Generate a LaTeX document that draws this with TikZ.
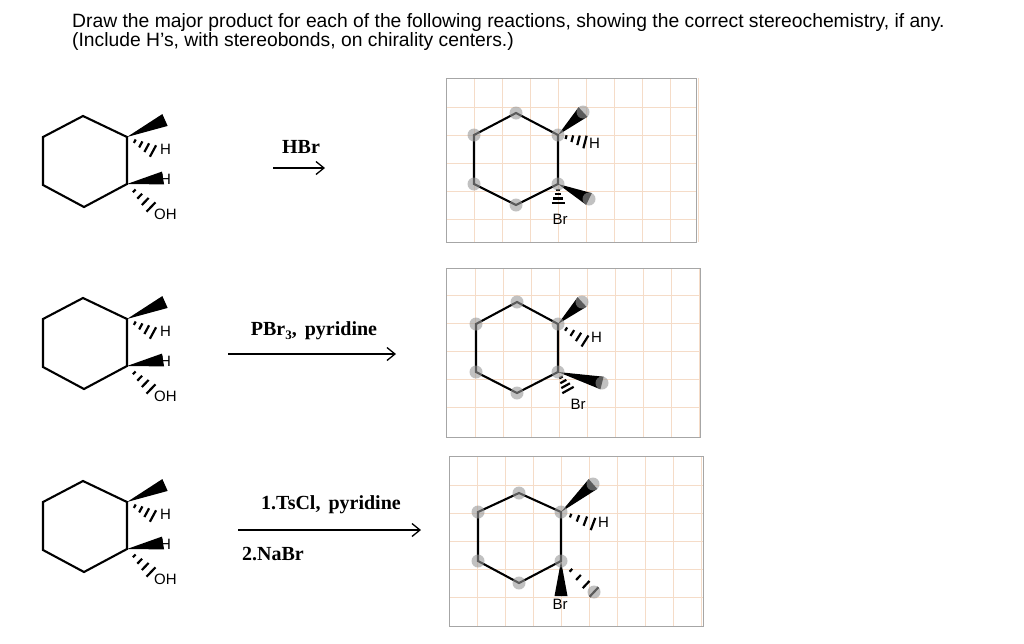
\documentclass[tikz,border=0pt]{standalone}
\usepackage{fontspec}
\setmainfont{Liberation Sans}
\newfontfamily\rxn{Liberation Serif}
\usetikzlibrary{calc,arrows.meta}
\definecolor{gridc}{RGB}{245,220,200}
\tikzset{bond/.style={line width=2.1pt,line join=miter},
 lab/.style={font=\fontsize{15}{15}\selectfont,inner sep=0pt},
 rx/.style={font=\rxn\bfseries\fontsize{20}{20}\selectfont,inner sep=0pt},
 arr/.style={-{Straight Barb[length=8pt,width=13pt]},line width=1.3pt},
 dot/.style={fill=gray!80,opacity=0.6},
 boxb/.style={draw=gray!70,line width=1pt}}
\newcommand\sub[1]{{\fontsize{13}{13}\selectfont\raisebox{-4pt}{#1}}}
\newcommand\wedgebond[2]{\fill (#1) -- ($(#2)!6.5pt!90:(#1)$) -- ($(#2)!6.5pt!-90:(#1)$) -- cycle;}
\newcommand\hashbond[2]{\foreach \t in {0.3,0.53,0.76,1.0}{\pgfmathsetmacro\hw{\t*6.5}
 \draw[line width=2.2pt] ($($(#1)!\t!(#2)$)!\hw pt!90:(#1)$) -- ($($(#1)!\t!(#2)$)!\hw pt!-90:(#1)$);}}
\newcommand\reactant{%
 \coordinate (t) at (83,116); \coordinate (c1) at (127,137); \coordinate (c2) at (127,184);
 \coordinate (b) at (84,207); \coordinate (ll) at (43,185); \coordinate (ul) at (43,137);
 \draw[bond] (t)--(c1)--(c2)--(b)--(ll)--(ul)--cycle;
 \coordinate (w1) at (165,120); \coordinate (h1) at (153,151);
 \coordinate (w2) at (163,178); \coordinate (h2) at (151,207);
 \wedgebond{c1}{w1} \hashbond{c1}{h1} \wedgebond{c2}{w2} \hashbond{c2}{h2}
 \node[lab,anchor=west] (H1) at (160,149) {H};
 \node[lab,anchor=west] (H2) at (160,179) {H};
 \node[lab,anchor=west] (OH) at (154,214) {OH};}
\newcommand\gridbox[6]{% x0,y0,x1,y1,gx0,gy0
 \foreach \x in {0,...,8}{\draw[gridc,line width=0.9pt] (#5+28*\x,#2)--(#5+28*\x,#4);}
 \foreach \y in {0,...,4}{\draw[gridc,line width=0.9pt] (#1,#6+28*\y)--(#3,#6+28*\y);}
 \draw[boxb] (#1,#2) rectangle (#3,#4);}
\newcommand\hexat[6]{%
 \draw[bond] (#1)--(#2)--(#3)--(#4)--(#5)--(#6)--cycle;}
\begin{document}
\begin{tikzpicture}[x=1pt,y=-1pt]
\useasboundingbox (0,0) rectangle (1024,643);
\fill[white] (0,0) rectangle (1024,643);
\node[anchor=west,font=\fontsize{19.3}{20}\selectfont,inner sep=0pt] (title1) at (72,23) {Draw the major product for each of the following reactions, showing the correct stereochemistry, if any.};
\node[anchor=west,font=\fontsize{19.3}{20}\selectfont,inner sep=0pt] (title2) at (72,42) {(Include H's, with stereobonds, on chirality centers.)};
% reactants
\begin{scope}\reactant\end{scope}
\begin{scope}[shift={(0,182)}]\reactant\end{scope}
\begin{scope}[shift={(0,365)}]\reactant\end{scope}
% reagents
\node[rx] (r1) at (301,147) {HBr};
\coordinate (a1s) at (273,168); \coordinate (a1e) at (325,168);
\draw[arr] (a1s)--(a1e);
\node[rx] (r2) at (314,331) {PBr\sub{3},\hspace{8pt}pyridine};
\coordinate (a2s) at (228,354); \coordinate (a2e) at (396,354);
\draw[arr] (a2s)--(a2e);
\node[rx] (r3) at (331,505) {1.TsCl,\hspace{8pt}pyridine};
\coordinate (a3s) at (238,530); \coordinate (a3e) at (421,530);
\draw[arr] (a3s)--(a3e);
\node[rx,anchor=west] (r4) at (242,554) {2.NaBr};
% box 1
\gridbox{446}{78}{696}{242}{474}{107}
\coordinate (p1t) at (516,113); \coordinate (p1a) at (558,135); \coordinate (p1b) at (558,184);
\coordinate (p1c) at (516,205); \coordinate (p1d) at (474,184); \coordinate (p1e) at (474,135);
\hexat{p1t}{p1a}{p1b}{p1c}{p1d}{p1e}
\coordinate (p1w) at (583,112); \coordinate (p1h) at (585,142);
\coordinate (p1w2) at (589,199); \coordinate (p1br) at (558,203);
\wedgebond{p1a}{p1w} \hashbond{p1a}{p1h} \wedgebond{p1b}{p1w2} \hashbond{p1b}{p1br}
\node[lab,anchor=west] (p1H) at (589,143) {H};
\node[lab] (p1Br) at (560,219) {Br};
\foreach \p in {p1t,p1a,p1b,p1c,p1d,p1e,p1w,p1w2}{\fill[dot] (\p) circle (6.5);}
% box 2
\gridbox{446}{268}{700}{437}{475}{295}
\coordinate (p2t) at (517,302); \coordinate (p2a) at (558,324); \coordinate (p2b) at (558,372);
\coordinate (p2c) at (517,393); \coordinate (p2d) at (476,372); \coordinate (p2e) at (476,324);
\hexat{p2t}{p2a}{p2b}{p2c}{p2d}{p2e}
\coordinate (p2w) at (582,302); \coordinate (p2h) at (585,341);
\coordinate (p2w2) at (602,383); \coordinate (p2br) at (568,390);
\wedgebond{p2a}{p2w} \hashbond{p2a}{p2h} \wedgebond{p2b}{p2w2} \hashbond{p2b}{p2br}
\node[lab,anchor=west] (p2H) at (591,337) {H};
\node[lab] (p2Br) at (578,404) {Br};
\foreach \p in {p2t,p2a,p2b,p2c,p2d,p2e,p2w,p2w2}{\fill[dot] (\p) circle (6.5);}
% box 3
\gridbox{449}{456}{703}{626}{477}{485}
\coordinate (p3t) at (519,493); \coordinate (p3a) at (561,512); \coordinate (p3b) at (561,561);
\coordinate (p3c) at (519,583); \coordinate (p3d) at (478,561); \coordinate (p3e) at (478,512);
\hexat{p3t}{p3a}{p3b}{p3c}{p3d}{p3e}
\coordinate (p3w) at (593,484); \coordinate (p3h) at (593,524);
\coordinate (p3br) at (561,596); \coordinate (p3w2) at (594,592);
\wedgebond{p3a}{p3w} \hashbond{p3a}{p3h} \wedgebond{p3b}{p3br} \hashbond{p3b}{p3w2}
\node[lab,anchor=west] (p3H) at (598,522) {H};
\node[lab] (p3Br) at (560,604) {Br};
\foreach \p in {p3t,p3a,p3b,p3c,p3d,p3e,p3w,p3w2}{\fill[dot] (\p) circle (6.5);}
\end{tikzpicture}
\end{document}
